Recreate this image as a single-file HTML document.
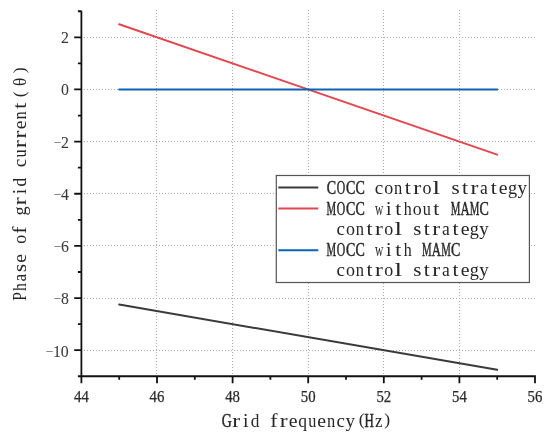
<!DOCTYPE html>
<html><head><meta charset="utf-8"><title>Phase of grid current vs grid frequency</title>
<style>html,body{margin:0;padding:0;background:#fff;}svg{display:block;}</style>
</head><body>
<svg width="550" height="439" viewBox="0 0 550 439"><rect x="0" y="0" width="550" height="439" fill="#fff"/>
<path d="M156.50 10V376.27 M232.50 10V376.27 M308.50 10V376.27 M383.50 10V376.27 M459.50 10V376.27 M84.00 37.50H535.00 M84.00 89.50H535.00 M84.00 141.50H535.00 M84.00 193.50H535.00 M84.00 245.50H535.00 M84.00 298.50H535.00 M84.00 350.50H535.00" stroke="#aaaaaa" stroke-width="1" stroke-dasharray="1 2" fill="none"/>
<line x1="119.20" y1="304.57" x2="497.20" y2="369.76" stroke="#3a3a3a" stroke-width="2.0" stroke-linecap="round"/>
<line x1="119.20" y1="24.26" x2="497.20" y2="154.64" stroke="#e2474e" stroke-width="2.0" stroke-linecap="round"/>
<line x1="119.20" y1="89.45" x2="497.20" y2="89.45" stroke="#0b63b5" stroke-width="2.0" stroke-linecap="round"/>
<path d="M81.40 10.63V383.27 M77.90 376.27H535.90 M74.20 350.20H81.40 M77.90 324.12H81.40 M74.20 298.05H81.40 M77.90 271.98H81.40 M74.20 245.90H81.40 M77.90 219.82H81.40 M74.20 193.75H81.40 M77.90 167.68H81.40 M74.20 141.60H81.40 M77.90 115.53H81.40 M74.20 89.45H81.40 M77.90 63.38H81.40 M74.20 37.30H81.40 M77.90 11.23H81.40 M119.20 376.27V379.77 M157.00 376.27V383.27 M194.80 376.27V379.77 M232.60 376.27V383.27 M270.40 376.27V379.77 M308.20 376.27V383.27 M346.00 376.27V379.77 M383.80 376.27V383.27 M421.60 376.27V379.77 M459.40 376.27V383.27 M497.20 376.27V379.77 M535.00 376.27V383.27" stroke="#111" stroke-width="1.8" fill="none"/>
<g font-family="Liberation Serif, serif" font-size="15.8" fill="#2c2c2c" stroke="#2c2c2c" stroke-width="0.25"><text x="74.00" y="402.2" textLength="14.8" lengthAdjust="spacingAndGlyphs">44</text><text x="149.60" y="402.2" textLength="14.8" lengthAdjust="spacingAndGlyphs">46</text><text x="225.20" y="402.2" textLength="14.8" lengthAdjust="spacingAndGlyphs">48</text><text x="300.80" y="402.2" textLength="14.8" lengthAdjust="spacingAndGlyphs">50</text><text x="376.40" y="402.2" textLength="14.8" lengthAdjust="spacingAndGlyphs">52</text><text x="452.00" y="402.2" textLength="14.8" lengthAdjust="spacingAndGlyphs">54</text><text x="527.60" y="402.2" textLength="14.8" lengthAdjust="spacingAndGlyphs">56</text><text x="68.9" y="42.96" text-anchor="end" fill="#383838" stroke-width="0.05">2</text><text x="68.9" y="95.25" text-anchor="end" fill="#383838" stroke-width="0.05">0</text><text y="147.54" fill="#383838" stroke-width="0.05"><tspan x="53.80" textLength="7.6" lengthAdjust="spacingAndGlyphs" fill="#6a6a6a" stroke="#6a6a6a" stroke-width="0.1">−</tspan><tspan x="60.90">2</tspan></text><text y="199.83" fill="#383838" stroke-width="0.05"><tspan x="53.80" textLength="7.6" lengthAdjust="spacingAndGlyphs" fill="#6a6a6a" stroke="#6a6a6a" stroke-width="0.1">−</tspan><tspan x="60.90">4</tspan></text><text y="252.12" fill="#383838" stroke-width="0.05"><tspan x="53.80" textLength="7.6" lengthAdjust="spacingAndGlyphs" fill="#6a6a6a" stroke="#6a6a6a" stroke-width="0.1">−</tspan><tspan x="60.90">6</tspan></text><text y="304.41" fill="#383838" stroke-width="0.05"><tspan x="53.80" textLength="7.6" lengthAdjust="spacingAndGlyphs" fill="#6a6a6a" stroke="#6a6a6a" stroke-width="0.1">−</tspan><tspan x="60.90">8</tspan></text><text y="356.70" fill="#383838" stroke-width="0.05"><tspan x="45.80" textLength="7.6" lengthAdjust="spacingAndGlyphs" fill="#6a6a6a" stroke="#6a6a6a" stroke-width="0.1">−</tspan><tspan x="52.90">10</tspan></text></g>
<rect x="276.3" y="175.5" width="253.10" height="107.00" fill="#fff" stroke="#555" stroke-width="1.2"/>
<line x1="278.3" y1="187.5" x2="318.3" y2="187.5" stroke="#3a3a3a" stroke-width="2.0"/>
<line x1="278.3" y1="208.5" x2="318.3" y2="208.5" stroke="#e2474e" stroke-width="2.0"/>
<line x1="278.3" y1="250.2" x2="318.3" y2="250.2" stroke="#0b63b5" stroke-width="2.0"/>
<g font-family="Liberation Serif, serif" fill="#262626" stroke="#262626" stroke-width="0.0"><text font-size="19.0" xml:space="preserve"><tspan x="326.80" y="194.00" textLength="9.35" lengthAdjust="spacingAndGlyphs" stroke-width="0.45">C</tspan><tspan x="336.69" y="194.00" textLength="8.46" lengthAdjust="spacingAndGlyphs" stroke-width="0.45">O</tspan><tspan x="345.90" y="194.00" textLength="9.35" lengthAdjust="spacingAndGlyphs" stroke-width="0.45">C</tspan><tspan x="355.45" y="194.00" textLength="9.35" lengthAdjust="spacingAndGlyphs" stroke-width="0.45">C</tspan> <tspan x="374.79" y="194.00">c</tspan><tspan x="384.19" y="194.00" textLength="8.97" lengthAdjust="spacingAndGlyphs">o</tspan><tspan x="394.05" y="194.00" textLength="8.23" lengthAdjust="spacingAndGlyphs">n</tspan><tspan x="404.71" y="194.00" textLength="6.04" lengthAdjust="spacingAndGlyphs">t</tspan><tspan x="413.25" y="194.00" textLength="7.88" lengthAdjust="spacingAndGlyphs">r</tspan><tspan x="422.39" y="194.00" textLength="8.97" lengthAdjust="spacingAndGlyphs">o</tspan><tspan x="432.63" y="194.00" textLength="7.59" lengthAdjust="spacingAndGlyphs">l</tspan> <tspan x="451.42" y="194.00" textLength="8.11" lengthAdjust="spacingAndGlyphs">s</tspan><tspan x="462.01" y="194.00" textLength="6.04" lengthAdjust="spacingAndGlyphs">t</tspan><tspan x="470.55" y="194.00" textLength="7.88" lengthAdjust="spacingAndGlyphs">r</tspan><tspan x="480.11" y="194.00" textLength="7.75" lengthAdjust="spacingAndGlyphs">a</tspan><tspan x="490.66" y="194.00" textLength="6.04" lengthAdjust="spacingAndGlyphs">t</tspan><tspan x="498.85" y="194.00" textLength="8.75" lengthAdjust="spacingAndGlyphs">e</tspan><tspan x="508.04" y="194.00" textLength="9.13" lengthAdjust="spacingAndGlyphs">g</tspan><tspan x="517.54" y="194.00">y</tspan></text><text font-size="19.0" xml:space="preserve"><tspan x="326.56" y="214.60" textLength="9.63" lengthAdjust="spacingAndGlyphs" stroke-width="0.45">M</tspan><tspan x="336.69" y="214.60" textLength="8.46" lengthAdjust="spacingAndGlyphs" stroke-width="0.45">O</tspan><tspan x="345.90" y="214.60" textLength="9.35" lengthAdjust="spacingAndGlyphs" stroke-width="0.45">C</tspan><tspan x="355.45" y="214.60" textLength="9.35" lengthAdjust="spacingAndGlyphs" stroke-width="0.45">C</tspan> <tspan x="374.96" y="214.60" textLength="8.36" lengthAdjust="spacingAndGlyphs">w</tspan><tspan x="385.91" y="214.60" textLength="5.49" lengthAdjust="spacingAndGlyphs">i</tspan><tspan x="395.16" y="214.60" textLength="6.04" lengthAdjust="spacingAndGlyphs">t</tspan><tspan x="403.82" y="214.60" textLength="7.97" lengthAdjust="spacingAndGlyphs">h</tspan><tspan x="412.84" y="214.60" textLength="8.97" lengthAdjust="spacingAndGlyphs">o</tspan><tspan x="422.86" y="214.60" textLength="8.09" lengthAdjust="spacingAndGlyphs">u</tspan><tspan x="433.36" y="214.60" textLength="6.04" lengthAdjust="spacingAndGlyphs">t</tspan> <tspan x="450.71" y="214.60" textLength="9.63" lengthAdjust="spacingAndGlyphs" stroke-width="0.45">M</tspan><tspan x="460.45" y="214.60" textLength="9.22" lengthAdjust="spacingAndGlyphs" stroke-width="0.45">A</tspan><tspan x="469.81" y="214.60" textLength="9.63" lengthAdjust="spacingAndGlyphs" stroke-width="0.45">M</tspan><tspan x="479.60" y="214.60" textLength="9.35" lengthAdjust="spacingAndGlyphs" stroke-width="0.45">C</tspan></text><text font-size="19.0" xml:space="preserve"> <tspan x="336.59" y="235.20">c</tspan><tspan x="345.99" y="235.20" textLength="8.97" lengthAdjust="spacingAndGlyphs">o</tspan><tspan x="355.85" y="235.20" textLength="8.23" lengthAdjust="spacingAndGlyphs">n</tspan><tspan x="366.51" y="235.20" textLength="6.04" lengthAdjust="spacingAndGlyphs">t</tspan><tspan x="375.05" y="235.20" textLength="7.88" lengthAdjust="spacingAndGlyphs">r</tspan><tspan x="384.19" y="235.20" textLength="8.97" lengthAdjust="spacingAndGlyphs">o</tspan><tspan x="394.43" y="235.20" textLength="7.59" lengthAdjust="spacingAndGlyphs">l</tspan> <tspan x="413.22" y="235.20" textLength="8.11" lengthAdjust="spacingAndGlyphs">s</tspan><tspan x="423.81" y="235.20" textLength="6.04" lengthAdjust="spacingAndGlyphs">t</tspan><tspan x="432.35" y="235.20" textLength="7.88" lengthAdjust="spacingAndGlyphs">r</tspan><tspan x="441.91" y="235.20" textLength="7.75" lengthAdjust="spacingAndGlyphs">a</tspan><tspan x="452.46" y="235.20" textLength="6.04" lengthAdjust="spacingAndGlyphs">t</tspan><tspan x="460.65" y="235.20" textLength="8.75" lengthAdjust="spacingAndGlyphs">e</tspan><tspan x="469.84" y="235.20" textLength="9.13" lengthAdjust="spacingAndGlyphs">g</tspan><tspan x="479.34" y="235.20">y</tspan></text><text font-size="19.0" xml:space="preserve"><tspan x="326.56" y="255.80" textLength="9.63" lengthAdjust="spacingAndGlyphs" stroke-width="0.45">M</tspan><tspan x="336.69" y="255.80" textLength="8.46" lengthAdjust="spacingAndGlyphs" stroke-width="0.45">O</tspan><tspan x="345.90" y="255.80" textLength="9.35" lengthAdjust="spacingAndGlyphs" stroke-width="0.45">C</tspan><tspan x="355.45" y="255.80" textLength="9.35" lengthAdjust="spacingAndGlyphs" stroke-width="0.45">C</tspan> <tspan x="374.96" y="255.80" textLength="8.36" lengthAdjust="spacingAndGlyphs">w</tspan><tspan x="385.91" y="255.80" textLength="5.49" lengthAdjust="spacingAndGlyphs">i</tspan><tspan x="395.16" y="255.80" textLength="6.04" lengthAdjust="spacingAndGlyphs">t</tspan><tspan x="403.82" y="255.80" textLength="7.97" lengthAdjust="spacingAndGlyphs">h</tspan> <tspan x="422.06" y="255.80" textLength="9.63" lengthAdjust="spacingAndGlyphs" stroke-width="0.45">M</tspan><tspan x="431.80" y="255.80" textLength="9.22" lengthAdjust="spacingAndGlyphs" stroke-width="0.45">A</tspan><tspan x="441.16" y="255.80" textLength="9.63" lengthAdjust="spacingAndGlyphs" stroke-width="0.45">M</tspan><tspan x="450.95" y="255.80" textLength="9.35" lengthAdjust="spacingAndGlyphs" stroke-width="0.45">C</tspan></text><text font-size="19.0" xml:space="preserve"> <tspan x="336.59" y="276.40">c</tspan><tspan x="345.99" y="276.40" textLength="8.97" lengthAdjust="spacingAndGlyphs">o</tspan><tspan x="355.85" y="276.40" textLength="8.23" lengthAdjust="spacingAndGlyphs">n</tspan><tspan x="366.51" y="276.40" textLength="6.04" lengthAdjust="spacingAndGlyphs">t</tspan><tspan x="375.05" y="276.40" textLength="7.88" lengthAdjust="spacingAndGlyphs">r</tspan><tspan x="384.19" y="276.40" textLength="8.97" lengthAdjust="spacingAndGlyphs">o</tspan><tspan x="394.43" y="276.40" textLength="7.59" lengthAdjust="spacingAndGlyphs">l</tspan> <tspan x="413.22" y="276.40" textLength="8.11" lengthAdjust="spacingAndGlyphs">s</tspan><tspan x="423.81" y="276.40" textLength="6.04" lengthAdjust="spacingAndGlyphs">t</tspan><tspan x="432.35" y="276.40" textLength="7.88" lengthAdjust="spacingAndGlyphs">r</tspan><tspan x="441.91" y="276.40" textLength="7.75" lengthAdjust="spacingAndGlyphs">a</tspan><tspan x="452.46" y="276.40" textLength="6.04" lengthAdjust="spacingAndGlyphs">t</tspan><tspan x="460.65" y="276.40" textLength="8.75" lengthAdjust="spacingAndGlyphs">e</tspan><tspan x="469.84" y="276.40" textLength="9.13" lengthAdjust="spacingAndGlyphs">g</tspan><tspan x="479.34" y="276.40">y</tspan></text></g>
<g font-family="Liberation Serif, serif" fill="#262626" stroke="#262626" stroke-width="0.0"><text font-size="19.0" xml:space="preserve"><tspan x="221.68" y="427.30" textLength="10.00" lengthAdjust="spacingAndGlyphs" stroke-width="0.45">G</tspan><tspan x="232.18" y="427.30" textLength="7.88" lengthAdjust="spacingAndGlyphs">r</tspan><tspan x="242.99" y="427.30" textLength="5.49" lengthAdjust="spacingAndGlyphs">i</tspan><tspan x="250.73" y="427.30" textLength="8.63" lengthAdjust="spacingAndGlyphs">d</tspan> <tspan x="270.28" y="427.30" textLength="7.27" lengthAdjust="spacingAndGlyphs">f</tspan><tspan x="279.68" y="427.30" textLength="7.88" lengthAdjust="spacingAndGlyphs">r</tspan><tspan x="288.83" y="427.30" textLength="8.75" lengthAdjust="spacingAndGlyphs">e</tspan><tspan x="298.22" y="427.30" textLength="8.75" lengthAdjust="spacingAndGlyphs">q</tspan><tspan x="308.24" y="427.30" textLength="8.09" lengthAdjust="spacingAndGlyphs">u</tspan><tspan x="317.33" y="427.30" textLength="8.75" lengthAdjust="spacingAndGlyphs">e</tspan><tspan x="327.07" y="427.30" textLength="8.23" lengthAdjust="spacingAndGlyphs">n</tspan><tspan x="336.42" y="427.30">c</tspan><tspan x="345.42" y="427.30">y</tspan><tspan x="358.86" y="425.00" font-size="17.67">(</tspan><tspan x="364.58" y="427.30" textLength="9.35" lengthAdjust="spacingAndGlyphs" stroke-width="0.45">H</tspan><tspan x="374.99" y="427.30" textLength="7.53" lengthAdjust="spacingAndGlyphs">z</tspan><tspan x="384.37" y="425.00" font-size="17.67">)</tspan></text></g>
<g font-family="Liberation Serif, serif" fill="#262626" stroke="#262626" stroke-width="0.0" transform="translate(26.3,301.3) rotate(-90)"><text font-size="19.0" xml:space="preserve"><tspan x="0.52" y="0.00" textLength="8.67" lengthAdjust="spacingAndGlyphs">P</tspan><tspan x="10.35" y="0.00" textLength="7.97" lengthAdjust="spacingAndGlyphs">h</tspan><tspan x="19.79" y="0.00" textLength="7.75" lengthAdjust="spacingAndGlyphs">a</tspan><tspan x="29.29" y="0.00" textLength="8.11" lengthAdjust="spacingAndGlyphs">s</tspan><tspan x="38.51" y="0.00" textLength="8.75" lengthAdjust="spacingAndGlyphs">e</tspan> <tspan x="57.53" y="0.00" textLength="8.97" lengthAdjust="spacingAndGlyphs">o</tspan><tspan x="67.58" y="0.00" textLength="7.27" lengthAdjust="spacingAndGlyphs">f</tspan> <tspan x="85.85" y="0.00" textLength="9.13" lengthAdjust="spacingAndGlyphs">g</tspan><tspan x="96.10" y="0.00" textLength="7.88" lengthAdjust="spacingAndGlyphs">r</tspan><tspan x="106.95" y="0.00" textLength="5.49" lengthAdjust="spacingAndGlyphs">i</tspan><tspan x="114.73" y="0.00" textLength="8.63" lengthAdjust="spacingAndGlyphs">d</tspan> <tspan x="134.00" y="0.00">c</tspan><tspan x="143.86" y="0.00" textLength="8.09" lengthAdjust="spacingAndGlyphs">u</tspan><tspan x="153.34" y="0.00" textLength="7.88" lengthAdjust="spacingAndGlyphs">r</tspan><tspan x="162.88" y="0.00" textLength="7.88" lengthAdjust="spacingAndGlyphs">r</tspan><tspan x="172.07" y="0.00" textLength="8.75" lengthAdjust="spacingAndGlyphs">e</tspan><tspan x="181.85" y="0.00" textLength="8.23" lengthAdjust="spacingAndGlyphs">n</tspan><tspan x="192.51" y="0.00" textLength="6.04" lengthAdjust="spacingAndGlyphs">t</tspan><tspan x="204.02" y="-1.00" font-size="17.67">(</tspan><tspan x="215.33" y="0.00" textLength="8.11" lengthAdjust="spacingAndGlyphs">θ</tspan><tspan x="228.05" y="-1.00" font-size="17.67">)</tspan></text></g></svg>
</body></html>
